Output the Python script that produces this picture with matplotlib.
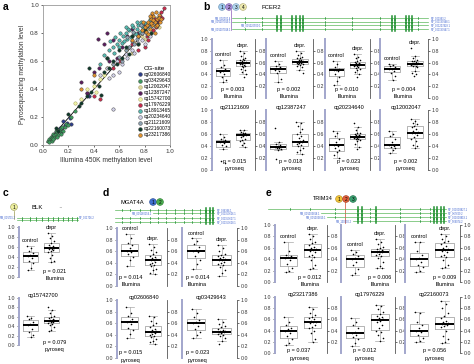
import numpy as np
import matplotlib.pyplot as plt
from matplotlib.patches import Circle

plt.rcParams['font.family'] = ['Liberation Sans', 'DejaVu Sans']

W, H = 474, 364

# ====== PANEL A DATA (Illumina vs pyroseq, per CG-site) ======
sites = ['cg02606840', 'cg03429643', 'cg12002047', 'cg12387247', 'cg15742700', 'cg17976229',
         'cg18913465', 'cg20234640', 'cg21121609', 'cg22160073', 'cg23217386']
site_colors = ['#2e3f8c', '#3d9b5e', '#dcd49a', '#5b1e5e', '#eef3a6', '#c92a4c',
               '#55b9b0', '#d0cfe6', '#8ea2b2', '#0f3a2a', '#e0922e']

x_cg02606840 = [0.08, 0.10, 0.12, 0.13, 0.15, 0.17, 0.19, 0.22, 0.35, 0.36, 0.11, 0.14, 0.16, 0.21]
y_cg02606840 = [0.07, 0.09, 0.10, 0.12, 0.12, 0.14, 0.16, 0.15, 0.37, 0.35, 0.11, 0.09, 0.17, 0.19]
x_cg03429643 = [0.04, 0.05, 0.06, 0.06, 0.07, 0.08, 0.08, 0.09, 0.10, 0.10, 0.11, 0.12, 0.13, 0.14, 0.15, 0.16, 0.17, 0.18, 0.20, 0.12, 0.09, 0.07, 0.05, 0.08, 0.11, 0.14, 0.22, 0.25]
y_cg03429643 = [0.03, 0.04, 0.04, 0.06, 0.05, 0.06, 0.08, 0.07, 0.08, 0.10, 0.09, 0.11, 0.10, 0.12, 0.13, 0.10, 0.13, 0.15, 0.14, 0.07, 0.05, 0.03, 0.02, 0.04, 0.06, 0.08, 0.20, 0.24]
x_cg12002047 = [0.60, 0.65, 0.70, 0.72, 0.75, 0.78, 0.80, 0.82, 0.85, 0.88, 0.90, 0.83, 0.87, 0.84, 0.89, 0.91]
y_cg12002047 = [0.62, 0.68, 0.66, 0.73, 0.72, 0.78, 0.76, 0.82, 0.80, 0.85, 0.87, 0.86, 0.82, 0.90, 0.91, 0.84]
x_cg12387247 = [0.30, 0.35, 0.40, 0.44, 0.48, 0.52, 0.55, 0.58, 0.62, 0.66, 0.70, 0.75, 0.80, 0.85, 0.90, 0.43, 0.50]
y_cg12387247 = [0.45, 0.37, 0.52, 0.55, 0.72, 0.60, 0.75, 0.62, 0.70, 0.78, 0.83, 0.80, 0.86, 0.90, 0.88, 0.76, 0.80]
x_cg15742700 = [0.25, 0.30, 0.35, 0.40, 0.45, 0.50, 0.55, 0.60, 0.42, 0.48]
y_cg15742700 = [0.30, 0.33, 0.40, 0.42, 0.47, 0.55, 0.58, 0.60, 0.38, 0.50]
x_cg17976229 = [0.40, 0.45, 0.55, 0.60, 0.70, 0.75, 0.78, 0.80, 0.82, 0.85, 0.87, 0.88, 0.90, 0.92, 0.93, 0.95, 0.83, 0.86, 0.89, 0.91, 0.94, 0.80]
y_cg17976229 = [0.35, 0.33, 0.55, 0.60, 0.72, 0.68, 0.80, 0.85, 0.78, 0.88, 0.82, 0.90, 0.86, 0.92, 0.95, 0.98, 0.75, 0.93, 0.84, 0.89, 0.91, 0.70]
x_cg18913465 = [0.50, 0.52, 0.55, 0.58, 0.60, 0.62, 0.63, 0.65, 0.66, 0.68, 0.70, 0.71, 0.72, 0.74, 0.75, 0.76, 0.78, 0.80, 0.60, 0.64, 0.69, 0.73, 0.56, 0.67,
                0.45, 0.48, 0.53, 0.57, 0.61, 0.65, 0.70, 0.74, 0.77, 0.79, 0.82, 0.84]
y_cg18913465 = [0.62, 0.68, 0.70, 0.72, 0.75, 0.73, 0.78, 0.80, 0.76, 0.82, 0.78, 0.84, 0.80, 0.83, 0.86, 0.81, 0.85, 0.87, 0.70, 0.74, 0.77, 0.79, 0.66, 0.83,
                0.58, 0.64, 0.74, 0.77, 0.80, 0.84, 0.86, 0.88, 0.88, 0.83, 0.86, 0.89]
x_cg20234640 = [0.45, 0.50, 0.55, 0.58, 0.62, 0.65, 0.68, 0.72, 0.75, 0.55, 0.60, 0.70, 0.78, 0.52, 0.66, 0.80, 0.84]
y_cg20234640 = [0.50, 0.55, 0.26, 0.60, 0.58, 0.65, 0.70, 0.66, 0.73, 0.50, 0.52, 0.68, 0.75, 0.48, 0.62, 0.72, 0.78]
x_cg21121609 = [0.55, 0.60, 0.65, 0.68, 0.70, 0.72, 0.75, 0.78, 0.80, 0.82, 0.84, 0.86, 0.62, 0.74, 0.66, 0.71, 0.77, 0.88]
y_cg21121609 = [0.58, 0.63, 0.68, 0.70, 0.74, 0.72, 0.78, 0.80, 0.82, 0.79, 0.84, 0.86, 0.60, 0.76, 0.77, 0.81, 0.86, 0.88]
x_cg22160073 = [0.10, 0.12, 0.20, 0.28, 0.30, 0.35, 0.38, 0.40, 0.44, 0.48, 0.50, 0.52, 0.55, 0.58, 0.60, 0.62, 0.65, 0.68, 0.70, 0.75, 0.80, 0.85, 0.90, 0.46, 0.36]
y_cg22160073 = [0.12, 0.10, 0.22, 0.28, 0.30, 0.35, 0.38, 0.45, 0.42, 0.52, 0.62, 0.55, 0.60, 0.58, 0.68, 0.62, 0.70, 0.65, 0.78, 0.72, 0.82, 0.80, 0.86, 0.36, 0.55]
x_cg23217386 = [0.30, 0.40, 0.70, 0.75, 0.78, 0.80, 0.82, 0.83, 0.84, 0.85, 0.86, 0.87, 0.88, 0.89, 0.90, 0.91, 0.92, 0.88, 0.85, 0.81, 0.86, 0.90,
                0.84, 0.87, 0.89, 0.91, 0.93, 0.79, 0.83]
y_cg23217386 = [0.40, 0.50, 0.75, 0.78, 0.82, 0.84, 0.86, 0.88, 0.83, 0.90, 0.86, 0.92, 0.88, 0.85, 0.90, 0.93, 0.88, 0.80, 0.87, 0.81, 0.94, 0.86,
                0.92, 0.89, 0.95, 0.91, 0.90, 0.88, 0.79]

fit_x = [0.03, 0.95]
fit_y = [0.02, 0.96]

# ====== PANEL B DATA (FCER2) ======
b_sites = ['cg21121609', 'cg12387247', 'cg20234640', 'cg12002047']
b_p_ill = ['0.003', '0.002', '0.010', '0.004']
b_p_pyr = ['0.015', '0.018', '0.023', '0.002']
b_ill_ctrl = [[0.65, 0.56, 0.52, 0.49, 0.46, 0.44, 0.41, 0.36, 0.30, 0.27],
              [0.62, 0.58, 0.55, 0.52, 0.50, 0.48, 0.45, 0.42, 0.33, 0.27],
              [0.63, 0.58, 0.52, 0.50, 0.48, 0.47, 0.45, 0.40, 0.36, 0.28, 0.22],
              [0.58, 0.56, 0.54, 0.52, 0.50, 0.49, 0.46, 0.43, 0.38, 0.30]]
b_ill_depr = [[0.80, 0.76, 0.72, 0.68, 0.66, 0.65, 0.64, 0.62, 0.61, 0.60, 0.59, 0.59, 0.58, 0.57, 0.56, 0.55, 0.54, 0.53, 0.50, 0.47, 0.44, 0.40, 0.36],
              [0.80, 0.76, 0.73, 0.70, 0.68, 0.67, 0.65, 0.64, 0.63, 0.62, 0.61, 0.61, 0.60, 0.60, 0.59, 0.58, 0.57, 0.56, 0.55, 0.52, 0.48, 0.42],
              [0.75, 0.70, 0.67, 0.64, 0.62, 0.61, 0.60, 0.59, 0.58, 0.57, 0.56, 0.56, 0.55, 0.54, 0.52, 0.51, 0.50, 0.47, 0.44, 0.40, 0.36],
              [0.85, 0.72, 0.68, 0.65, 0.63, 0.62, 0.61, 0.60, 0.59, 0.58, 0.58, 0.57, 0.57, 0.56, 0.55, 0.54, 0.52, 0.45, 0.42, 0.40, 0.38]]
b_pyr_ctrl = [[0.60, 0.55, 0.52, 0.50, 0.49, 0.47, 0.45, 0.42, 0.40, 0.35, 0.15, 0.12],
              [0.70, 0.46, 0.44, 0.42, 0.40, 0.38, 0.37, 0.36, 0.35, 0.33, 0.18],
              [0.65, 0.62, 0.57, 0.52, 0.47, 0.42, 0.40, 0.36, 0.33, 0.30, 0.25, 0.20],
              [0.65, 0.60, 0.57, 0.52, 0.46, 0.42, 0.40, 0.38, 0.36, 0.33, 0.28]]
b_pyr_depr = [[0.67, 0.66, 0.64, 0.62, 0.61, 0.60, 0.60, 0.59, 0.58, 0.57, 0.55, 0.52, 0.50, 0.48, 0.45, 0.42, 0.38],
              [0.80, 0.78, 0.74, 0.68, 0.63, 0.60, 0.57, 0.53, 0.50, 0.48, 0.47, 0.46, 0.45, 0.43, 0.41, 0.40, 0.37, 0.33, 0.30, 0.27],
              [0.78, 0.72, 0.66, 0.62, 0.61, 0.60, 0.59, 0.58, 0.57, 0.56, 0.55, 0.55, 0.54, 0.53, 0.52, 0.51, 0.50, 0.48, 0.44, 0.38, 0.35],
              [0.85, 0.82, 0.78, 0.76, 0.74, 0.72, 0.68, 0.65, 0.63, 0.62, 0.61, 0.58, 0.55, 0.52, 0.48, 0.42, 0.40, 0.37]]

# ====== PANEL C DATA (BLK) ======
c_sites = ['cg15742700']
c_p_ill = ['0.021']
c_p_pyr = ['0.079']
c_ill_ctrl = [[0.62, 0.58, 0.52, 0.48, 0.45, 0.43, 0.38, 0.32, 0.28, 0.18, 0.15]]
c_ill_depr = [[0.88, 0.82, 0.78, 0.72, 0.68, 0.65, 0.62, 0.60, 0.58, 0.57, 0.56, 0.55, 0.52, 0.50, 0.45, 0.38, 0.32, 0.30]]
c_pyr_ctrl = [[0.62, 0.58, 0.55, 0.50, 0.45, 0.42, 0.35, 0.28, 0.22, 0.18]]
c_pyr_depr = [[0.80, 0.75, 0.68, 0.62, 0.60, 0.58, 0.56, 0.54, 0.53, 0.52, 0.51, 0.50, 0.48, 0.47, 0.45, 0.42, 0.38, 0.32, 0.30]]

# ====== PANEL D DATA (MGAT4A) ======
d_sites = ['cg02606840', 'cg03429643']
d_p_ill = ['0.014', '0.014']
d_p_pyr = ['0.015', '0.023']
d_ill_ctrl = [[0.90, 0.82, 0.74, 0.70, 0.65, 0.60, 0.58, 0.55, 0.50, 0.45, 0.35],
              [0.82, 0.78, 0.72, 0.68, 0.62, 0.60, 0.58, 0.52, 0.45, 0.38, 0.30]]
d_ill_depr = [[0.72, 0.68, 0.62, 0.58, 0.55, 0.52, 0.50, 0.48, 0.46, 0.45, 0.44, 0.42, 0.40, 0.38, 0.36, 0.34, 0.30, 0.27, 0.22, 0.20],
              [0.70, 0.65, 0.60, 0.56, 0.54, 0.52, 0.50, 0.48, 0.46, 0.45, 0.44, 0.42, 0.40, 0.38, 0.36, 0.33, 0.28, 0.22, 0.17]]
d_pyr_ctrl = [[0.88, 0.78, 0.72, 0.68, 0.64, 0.62, 0.58, 0.52, 0.48, 0.42, 0.35],
              [0.85, 0.78, 0.70, 0.66, 0.62, 0.60, 0.55, 0.50, 0.45, 0.40, 0.35]]
d_pyr_depr = [[0.72, 0.70, 0.64, 0.60, 0.57, 0.54, 0.50, 0.48, 0.46, 0.45, 0.44, 0.43, 0.42, 0.40, 0.38, 0.36, 0.33, 0.30, 0.27, 0.25],
              [0.67, 0.62, 0.58, 0.55, 0.53, 0.50, 0.48, 0.47, 0.46, 0.45, 0.45, 0.44, 0.43, 0.42, 0.40, 0.38, 0.35, 0.30, 0.25]]

# ====== PANEL E DATA (TRIM34) ======
e_sites = ['cg23217386', 'cg17976229', 'cg22160073']
e_p_ill = ['0.012', '0.006', '0.009']
e_p_pyr = ['0.037', '0.012', '0.056']
e_ill_ctrl = [[0.70, 0.55, 0.48, 0.45, 0.43, 0.42, 0.38, 0.32, 0.25, 0.20, 0.18],
              [0.56, 0.52, 0.50, 0.46, 0.42, 0.40, 0.35, 0.30, 0.22, 0.15, 0.13],
              [0.70, 0.70, 0.55, 0.48, 0.42, 0.40, 0.35, 0.30, 0.27, 0.20, 0.17]]
e_ill_depr = [[0.85, 0.80, 0.75, 0.70, 0.68, 0.65, 0.62, 0.60, 0.58, 0.57, 0.55, 0.52, 0.48, 0.45, 0.43, 0.38, 0.30, 0.25, 0.22],
              [0.75, 0.70, 0.66, 0.62, 0.60, 0.58, 0.56, 0.55, 0.54, 0.53, 0.53, 0.52, 0.50, 0.48, 0.46, 0.42, 0.35, 0.28, 0.25, 0.25],
              [0.85, 0.80, 0.76, 0.72, 0.70, 0.66, 0.63, 0.60, 0.58, 0.57, 0.55, 0.52, 0.48, 0.45, 0.43, 0.38, 0.30, 0.27, 0.25]]
e_pyr_ctrl = [[0.65, 0.55, 0.50, 0.45, 0.42, 0.40, 0.36, 0.30, 0.25, 0.18, 0.15],
              [0.62, 0.55, 0.50, 0.45, 0.38, 0.36, 0.33, 0.28, 0.25, 0.18, 0.13],
              [0.74, 0.72, 0.55, 0.50, 0.45, 0.40, 0.37, 0.32, 0.27, 0.22, 0.20]]
e_pyr_depr = [[0.82, 0.78, 0.72, 0.68, 0.64, 0.62, 0.60, 0.57, 0.55, 0.55, 0.53, 0.50, 0.47, 0.45, 0.40, 0.35, 0.25, 0.20],
              [0.86, 0.84, 0.78, 0.74, 0.70, 0.66, 0.64, 0.62, 0.60, 0.58, 0.55, 0.50, 0.45, 0.40, 0.38, 0.32, 0.27, 0.22],
              [0.92, 0.88, 0.80, 0.72, 0.66, 0.62, 0.58, 0.55, 0.53, 0.52, 0.51, 0.50, 0.48, 0.46, 0.40, 0.30, 0.25, 0.20, 0.18]]


# ====== HELPERS ======
fig = plt.figure(figsize=(W / 100, H / 100), dpi=100)

LAV = '#a2a6cc'
GRAY = '#a8a8a8'
GREEN = '#5cb85c'
EXON = '#1f8f30'
BLUE = '#3a5fcd'
TICKS = [0.0, 0.2, 0.4, 0.6, 0.8, 1.0]
FS = 4.0


def px_axes(x0, x1, y0, y1):
    return fig.add_axes([x0 / W, 1 - y1 / H, (x1 - x0) / W, (y1 - y0) / H])


def box_sub(ax, ctrl, depr, first, right, last):
    ax.boxplot([ctrl, depr], positions=[1, 2], widths=0.72, showfliers=False,
               boxprops=dict(color=GRAY, lw=0.6), whiskerprops=dict(color=GRAY, lw=0.5),
               capprops=dict(color=GRAY, lw=0.5), medianprops=dict(color='black', lw=1.4))
    for pos, vals in ((1, ctrl), (2, depr)):
        jit = (((np.arange(len(vals)) * 0.618) % 1) - 0.5) * 0.32
        ax.scatter(pos + jit, vals, s=1.3, c='black', lw=0, zorder=3)
    ax.set_xlim(0.45, 2.6)
    ax.set_ylim(0, 1)
    ax.set_xticks([])
    ax.set_facecolor('none')
    for s in ('top', 'bottom', 'right'):
        ax.spines[s].set_visible(False)
    ax.spines['left'].set_color(LAV)
    ax.spines['left'].set_linewidth(1.4)
    ax.set_yticks(TICKS, ['%.1f' % t for t in TICKS])
    ax.tick_params(axis='y', labelsize=3.8, length=1.5, width=0.5, pad=1, colors='#333333')
    if not first:
        ax.tick_params(axis='y', left=False, labelleft=False)
    if right:
        sec = ax.secondary_yaxis('right')
        tk = TICKS if last else TICKS[1:-1]
        sec.set_yticks(tk, ['%.1f' % t for t in tk])
        sec.spines['right'].set_color('#555555')
        sec.spines['right'].set_linewidth(0.6)
        sec.tick_params(labelsize=3.8, length=1.5, width=0.5, pad=1, colors='#333333')


def box_row(cols, y0, y1, ctrl, depr, pvals, method, titles, px, py, depr_word, right=True):
    n = len(cols)
    for i, (x0, x1) in enumerate(cols):
        ax = px_axes(x0, x1, y0, y1)
        box_sub(ax, ctrl[i], depr[i], i == 0, right, i == n - 1)
        if titles is None:
            ax.text(1, max(ctrl[i]) + 0.05, 'control', ha='center', va='bottom', fontsize=FS)
            ax.text(2, max(depr[i]) + 0.05, depr_word, ha='center', va='bottom', fontsize=FS)
        else:
            ax.text(1.6, 1.0, titles[i], ha='center', va='bottom', fontsize=FS)
        ax.text(px[i], py[0], 'p = ' + pvals[i], ha='center', va='bottom', fontsize=FS)
        ax.text(px[i], py[1], method, ha='center', va='bottom', fontsize=FS)


def gene_ax(x0, x1, y0, y1):
    ax = px_axes(x0, x1, y0, y1)
    ax.set_xlim(x0, x1)
    ax.set_ylim(y1, y0)
    ax.axis('off')
    return ax


def transcripts(ax, rows, exons, big, xend, rlabel_x):
    for (y, xs, ll, rl) in rows:
        ax.plot([xs, xend], [y, y], color=GREEN, lw=0.5)
        for x in exons:
            if xs <= x <= xend:
                h = 1.6 if x in big else 1.0
                ax.plot([x, x], [y - h, y + h], color=EXON, lw=1.1 if x in big else 0.5)
        if ll:
            ax.text(xs - 1, y, ll, ha='right', va='center', fontsize=1.8, color=BLUE)
        if rl:
            ax.text(rlabel_x, y, rl, ha='left', va='center', fontsize=1.8, color=BLUE)


def site_circles(ax, xs, y, cols, edges):
    for k, (x, c, e) in enumerate(zip(xs, cols, edges)):
        ax.add_patch(Circle((x, y), 3.4, fc=c, ec=e, lw=0.4, zorder=4))
        ax.text(x, y + 0.2, str(k + 1), ha='center', va='center', fontsize=3.4, zorder=5)


# ====== PANEL A ======
ax_a = px_axes(43, 170, 5, 145)
site_x = [x_cg02606840, x_cg03429643, x_cg12002047, x_cg12387247, x_cg15742700, x_cg17976229,
          x_cg18913465, x_cg20234640, x_cg21121609, x_cg22160073, x_cg23217386]
site_y = [y_cg02606840, y_cg03429643, y_cg12002047, y_cg12387247, y_cg15742700, y_cg17976229,
          y_cg18913465, y_cg20234640, y_cg21121609, y_cg22160073, y_cg23217386]
for name, col, xs, ys in zip(sites, site_colors, site_x, site_y):
    edge = '#9a9050' if name in ('cg12002047', 'cg15742700') else '#333333'
    ax_a.scatter(xs, ys, s=6, c=col, edgecolors=edge, linewidths=0.3, label=name, zorder=3)
ax_a.plot(fit_x, fit_y, color='black', lw=0.6, zorder=2)
ax_a.set_xlim(0, 1)
ax_a.set_ylim(0, 1)
ax_a.set_xticks(TICKS, ['%.1f' % t for t in TICKS])
ax_a.set_yticks(TICKS, ['%.1f' % t for t in TICKS])
ax_a.tick_params(labelsize=4.5, length=1.5, width=0.5, pad=1.5, colors='#333333')
for s in ax_a.spines.values():
    s.set_color('#999999')
    s.set_linewidth(0.6)
ax_a.set_xlabel('Illumina 450K methylation level', fontsize=4.8, labelpad=2, color='#333333')
ax_a.set_ylabel('Pyrosequencing methylation level', fontsize=4.8, labelpad=3, color='#333333')
leg = ax_a.legend(title='CG-site', loc='lower right', bbox_to_anchor=(1.02, 0.04), fontsize=3.5,
                  title_fontsize=4.5, frameon=False, handletextpad=0.0, labelspacing=0.22,
                  borderaxespad=0, handlelength=1.2, markerscale=1.1)

# ====== PANEL B ======
gb = gene_ax(203, 474, 1, 33)
site_circles(gb, [222, 229, 236, 243], 7, ['#9cc8ec', '#a98fd8', '#b3d6ee', '#eeeab0'],
             ['#6a90b0', '#7a60a8', '#7aa0c0', '#b0a870'])
gb.text(262, 7.5, 'FCER2', ha='left', va='center', fontsize=4.3)
gb.plot([231, 231], [10, 30], color='#8a5ab8', lw=0.5)
transcripts(gb, [(18, 232, 'NM_002002.4', 'NP_001993.2'), (21.5, 232, 'NM_001207019.1', 'NP_001193948.1'),
                 (25, 262, 'NM_001220500.1', 'NP_001207429.1'), (29, 232, 'NM_001207018.1', 'NP_001193947.1')],
            [245, 262, 277, 281, 292, 296, 300, 303, 325, 352, 380, 392, 395, 406, 409, 412, 418],
            [277, 281, 292, 296, 300, 303, 392, 395, 406, 409, 412], 428, 431)
b_cols = [(212, 255), (266, 313), (325, 370), (380, 428)]
box_row(b_cols, 39, 98, b_ill_ctrl, b_ill_depr, b_p_ill, 'Illumina', None, [1.5] * 4, (0.1, -0.02), 'depr.')
box_row(b_cols, 110, 170, b_pyr_ctrl, b_pyr_depr, b_p_pyr, 'pyroseq', b_sites, [1.6] * 4, (0.1, -0.02), 'depr.')

# ====== PANEL C ======
gc = gene_ax(0, 100, 198, 224)
site_circles(gc, [14], 207, ['#eef0a0'], ['#9a9a50'])
gc.text(31, 207.5, 'BLK', ha='left', va='center', fontsize=4.3)
gc.text(58, 207, '\u2192', ha='left', va='center', fontsize=2.5, color='#888888')
gc.plot([14, 14], [210.5, 219], color='#9a9a50', lw=0.5)
transcripts(gc, [(217.5, 17, 'NM_001715.2', 'NP_001706.2'), (219.5, 17, '', '')],
            [22, 30, 36, 42, 48, 53, 58, 63, 68, 72, 77], [], 78, 79)
c_cols = [(19, 64)]
box_row(c_cols, 227, 277, c_ill_ctrl, c_ill_depr, c_p_ill, 'Illumina', None, [2.15], (0.06, -0.08), 'depr', right=False)
box_row(c_cols, 298, 345, c_pyr_ctrl, c_pyr_depr, c_p_pyr, 'pyroseq', c_sites, [2.15], (0.0, -0.14), 'depr', right=False)

# ====== PANEL D ======
gd = gene_ax(100, 266, 195, 225)
gd.text(121, 202, 'MGAT4A', ha='left', va='center', fontsize=4.2)
site_circles(gd, [153, 160], 202, ['#3f6fd0', '#4caf50'], ['#2a4a90', '#2a7a30'])
transcripts(gd, [(210, 115, '', 'NP_036346.1'), (213, 153, 'NM_001160154.1', 'NP_001153626.1'),
                 (218, 115, '', 'NP_001153627.1'), (222, 115, '', 'NP_001153628.1')],
            [122, 130, 140, 150, 158, 166, 175, 184, 192, 200, 206, 210, 213],
            [206, 210, 213], 214, 217)
d_cols = [(117, 167), (182, 237)]
box_row(d_cols, 228, 286, d_ill_ctrl, d_ill_depr, d_p_ill, 'Illumina', None, [1.05, 1.05], (0.1, -0.02), 'depr.')
box_row(d_cols, 300, 358, d_pyr_ctrl, d_pyr_depr, d_p_pyr, 'pyroseq', d_sites, [1.05, 1.05], (0.06, -0.08), 'depr.')

# ====== PANEL E ======
ge = gene_ax(266, 474, 190, 226)
ge.text(313, 199, 'TRIM34', ha='left', va='center', fontsize=4.0)
ge.plot([345, 345], [202, 223], color='#d04a30', lw=0.5)
site_circles(ge, [339, 346, 353], 199, ['#f2c53a', '#e3603c', '#3aa070'], ['#b08a20', '#a03a20', '#206a48'])
transcripts(ge, [(209, 268, '', 'NP_001003827.1'), (213, 321, 'NM_001003818.1', 'NP_067629.2'),
                 (217, 327, 'NM_001003819.1', 'NP_001003819.1'), (221, 353, 'NM_130390.2', 'NP_569074.2')],
            [290, 310, 335, 358, 362, 370, 376, 400, 420, 430, 434, 437, 441, 444],
            [358, 362, 376, 434, 437, 441, 444], 446, 448)
e_cols = [(275, 327), (341, 395), (405, 460)]
box_row(e_cols, 225, 282, e_ill_ctrl, e_ill_depr, e_p_ill, 'Illumina', None, [1.9, 2.0, 2.0], (0.04, -0.08), 'depr.')
box_row(e_cols, 297, 353, e_pyr_ctrl, e_pyr_depr, e_p_pyr, 'pyroseq', e_sites, [1.45, 1.4, 1.6], (0.0, -0.14), 'depr.')

# ====== PANEL LETTERS ======
for lab, x, y in (('a', 3, 2), ('b', 203, 2), ('c', 3, 188), ('d', 103, 188), ('e', 266, 188)):
    fig.text(x / W, 1 - y / H, lab, fontsize=7.5, weight='bold', va='top', ha='left')

fig.savefig('out.png', dpi=100)
